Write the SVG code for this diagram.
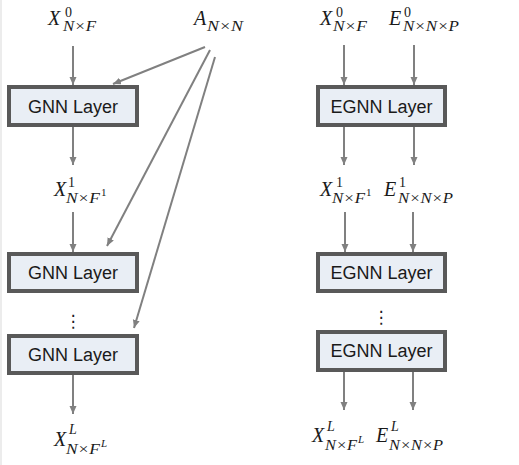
<svg xmlns="http://www.w3.org/2000/svg" width="519" height="465" viewBox="0 0 519 465">
<defs>
<marker id="ah" markerUnits="userSpaceOnUse" markerWidth="9" markerHeight="8" refX="8" refY="3.5" orient="auto">
<path d="M0,0 L8,3.5 L0,7 z" fill="#808080"/>
</marker>
<style>
.box{fill:#E9EEF5;stroke:#595959;stroke-width:4}
.lbl{font-family:"Liberation Sans",Arial,sans-serif;font-size:18px;fill:#1a1a1a;text-anchor:middle}
.m{font-family:"Liberation Serif","DejaVu Serif",serif;font-style:italic;font-size:20px;fill:#1a1a1a}
.s{font-family:"Liberation Serif","DejaVu Serif",serif;font-style:italic;font-size:14px;fill:#1a1a1a}
.d{font-family:"Liberation Serif","DejaVu Serif",serif;font-size:14px;fill:#1a1a1a}
.dd{font-family:"Liberation Serif","DejaVu Serif",serif;font-size:11px;fill:#1a1a1a}
.ls{font-family:"Liberation Serif","DejaVu Serif",serif;font-style:italic;font-size:14px;fill:#1a1a1a}
.ld{font-family:"Liberation Serif","DejaVu Serif",serif;font-style:italic;font-size:11px;fill:#1a1a1a}
.dots{font-family:"DejaVu Sans",sans-serif;font-size:17px;fill:#1a1a1a;text-anchor:middle}
.c{stroke:#808080;stroke-width:2;fill:none;marker-end:url(#ah)}
</style>
</defs>
<rect x="0" y="0" width="519" height="465" fill="#ffffff"/>
<line x1="1" y1="0" x2="1" y2="465" stroke="#ececec" stroke-width="2"/>

<g id="connectors">
<line class="c" x1="73" y1="46" x2="73" y2="85"/>
<line class="c" x1="73" y1="127" x2="73" y2="165"/>
<line class="c" x1="73" y1="212" x2="73" y2="252"/>
<line class="c" x1="73" y1="375" x2="73" y2="414"/>
<line class="c" x1="205" y1="47" x2="113" y2="84"/>
<line class="c" x1="210" y1="50" x2="107" y2="246"/>
<line class="c" x1="215" y1="57" x2="134" y2="328"/>
<line class="c" x1="344" y1="45" x2="344" y2="85"/>
<line class="c" x1="414" y1="45" x2="414" y2="85"/>
<line class="c" x1="344" y1="127" x2="344" y2="165"/>
<line class="c" x1="414" y1="127" x2="414" y2="165"/>
<line class="c" x1="345" y1="212" x2="345" y2="252"/>
<line class="c" x1="413" y1="212" x2="413" y2="252"/>
<line class="c" x1="344" y1="372" x2="344" y2="410"/>
<line class="c" x1="413" y1="372" x2="413" y2="410"/>
</g>

<g id="gnn1"><rect class="box" x="9" y="87" width="128" height="38"/><text class="lbl" x="73" y="112.5">GNN Layer</text></g>
<g id="gnn2"><rect class="box" x="9" y="254" width="128" height="37"/><text class="lbl" x="73" y="279">GNN Layer</text></g>
<g id="gnn3"><rect class="box" x="9" y="336" width="128" height="37"/><text class="lbl" x="73" y="361">GNN Layer</text></g>
<g id="egnn1"><rect class="box" x="318" y="87" width="127" height="38"/><text class="lbl" x="381.5" y="112.5">EGNN Layer</text></g>
<g id="egnn2"><rect class="box" x="318" y="254" width="127" height="37"/><text class="lbl" x="381.5" y="279">EGNN Layer</text></g>
<g id="egnn3"><rect class="box" x="318" y="332" width="127" height="38"/><text class="lbl" x="381.5" y="357">EGNN Layer</text></g>

<g id="dots-left"><text class="dots" x="73" y="327">⋮</text></g>
<g id="dots-right"><text class="dots" x="381" y="323">⋮</text></g>

<g id="x0-left"><text class="m" x="48" y="25">X</text><text class="d" x="65" y="17">0</text><text class="s" x="63" y="31" textLength="33" lengthAdjust="spacingAndGlyphs">N×F</text></g>
<g id="a"><text class="m" x="194" y="25">A</text><text class="s" x="207" y="31" textLength="36" lengthAdjust="spacingAndGlyphs">N×N</text></g>
<g id="x1-left"><text class="m" x="54" y="196">X</text><text class="d" x="68" y="187">1</text><text class="s" x="66" y="203" textLength="34" lengthAdjust="spacingAndGlyphs">N×F</text><text class="dd" x="101" y="196">1</text></g>
<g id="xl-left"><text class="m" x="54" y="446">X</text><text class="ls" x="69" y="434">L</text><text class="s" x="66" y="454" textLength="34" lengthAdjust="spacingAndGlyphs">N×F</text><text class="ld" x="101" y="447">L</text></g>
<g id="x0-right"><text class="m" x="320" y="25">X</text><text class="d" x="336" y="17">0</text><text class="s" x="333" y="31" textLength="34" lengthAdjust="spacingAndGlyphs">N×F</text></g>
<g id="e0"><text class="m" x="389" y="25">E</text><text class="d" x="404" y="17">0</text><text class="s" x="403" y="31" textLength="56" lengthAdjust="spacingAndGlyphs">N×N×P</text></g>
<g id="x1-right"><text class="m" x="320" y="196">X</text><text class="d" x="336" y="187">1</text><text class="s" x="332" y="203" textLength="33" lengthAdjust="spacingAndGlyphs">N×F</text><text class="dd" x="366" y="196">1</text></g>
<g id="e1"><text class="m" x="384" y="196">E</text><text class="d" x="399" y="187">1</text><text class="s" x="398" y="203" textLength="55" lengthAdjust="spacingAndGlyphs">N×N×P</text></g>
<g id="xl-right"><text class="m" x="312" y="442">X</text><text class="ls" x="327" y="431">L</text><text class="s" x="325" y="450" textLength="32" lengthAdjust="spacingAndGlyphs">N×F</text><text class="ld" x="358" y="443">L</text></g>
<g id="el"><text class="m" x="376" y="442">E</text><text class="ls" x="391" y="431">L</text><text class="s" x="389" y="450" textLength="54" lengthAdjust="spacingAndGlyphs">N×N×P</text></g>
</svg>
